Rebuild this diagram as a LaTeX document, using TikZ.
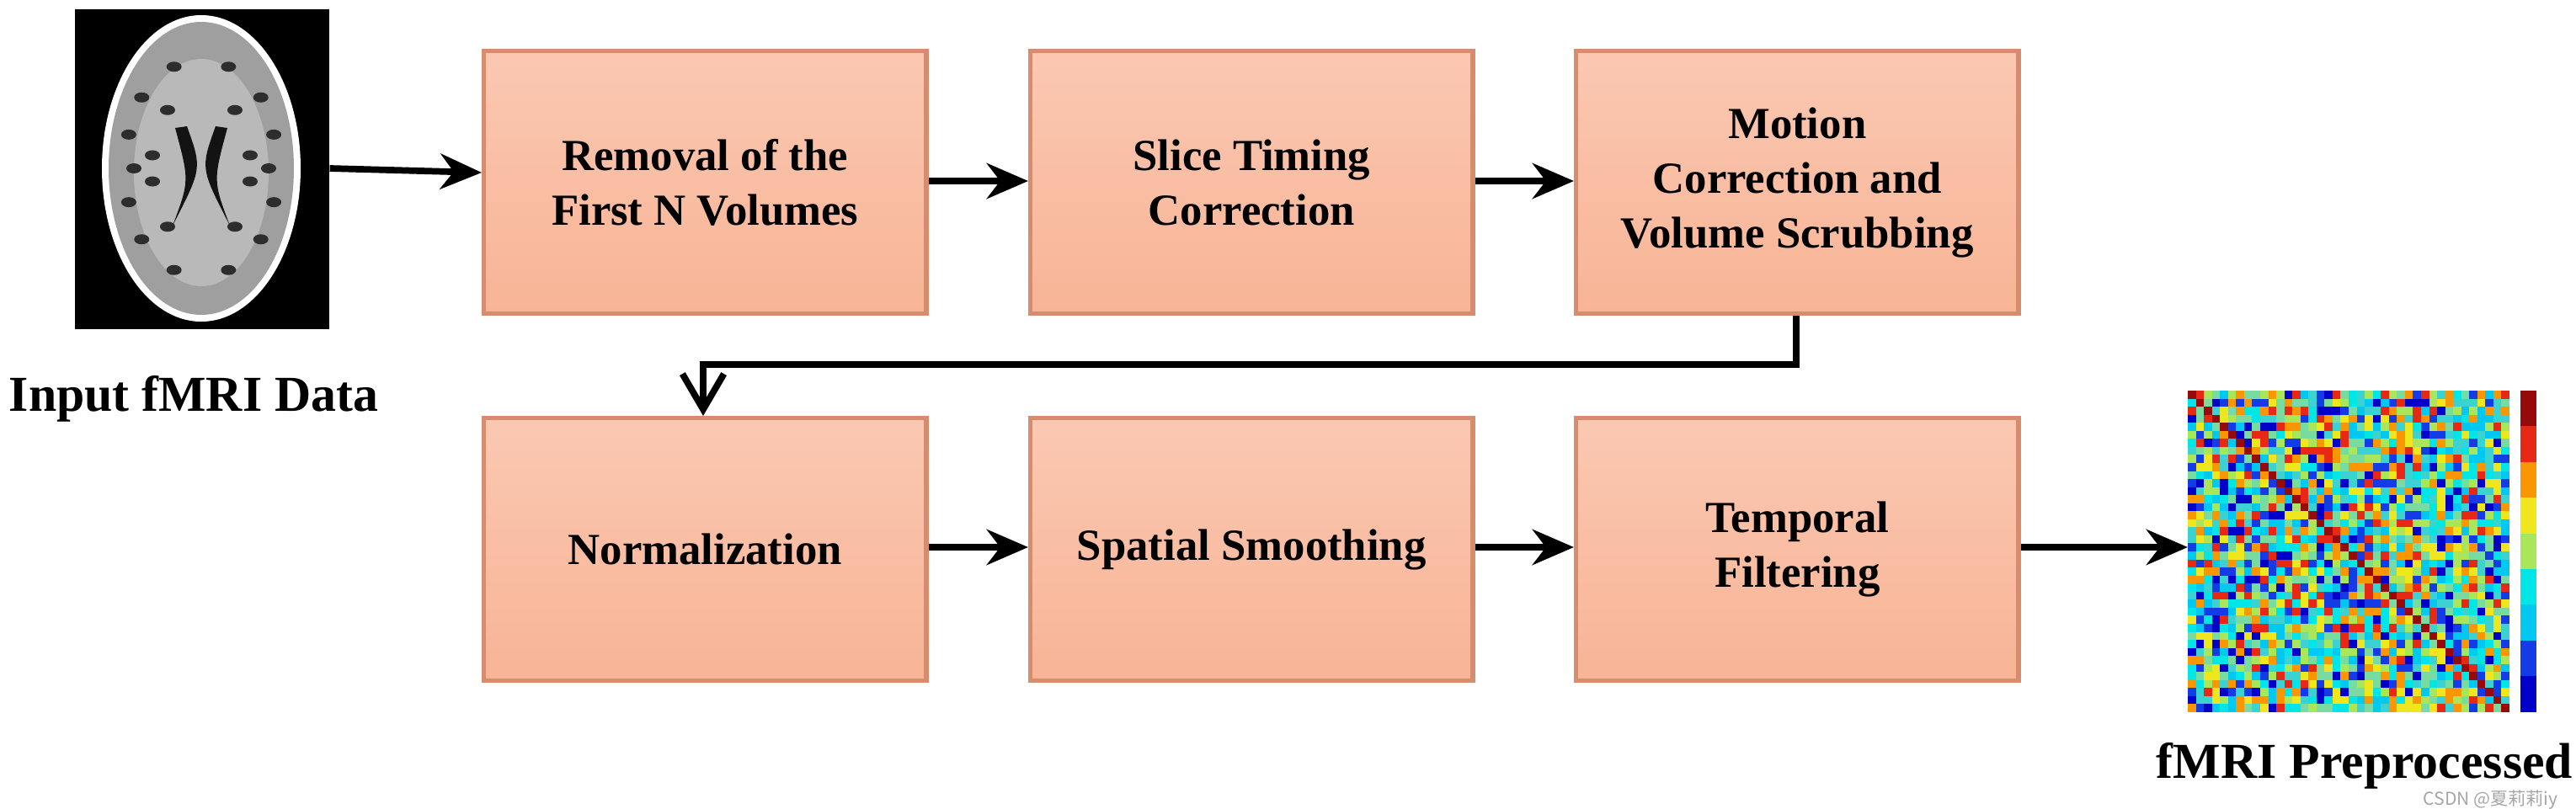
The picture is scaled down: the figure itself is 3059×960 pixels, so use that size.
\documentclass[tikz,border=0pt]{standalone}
\usepackage{fontspec}
\setmainfont{Liberation Serif}
\newfontfamily\cjk{Noto Sans CJK SC}
\usetikzlibrary{arrows.meta}
\definecolor{boxfill}{RGB}{248,180,150}
\definecolor{boxtop}{RGB}{250,200,178}
\definecolor{boxline}{RGB}{215,140,110}
\definecolor{c1}{RGB}{0,0,200}
\definecolor{c2}{RGB}{20,60,230}
\definecolor{c3}{RGB}{0,200,240}
\definecolor{c4}{RGB}{0,230,230}
\definecolor{c5}{RGB}{60,210,210}
\definecolor{c6}{RGB}{120,220,160}
\definecolor{c7}{RGB}{170,230,90}
\definecolor{c8}{RGB}{240,230,30}
\definecolor{c9}{RGB}{250,150,0}
\definecolor{c10}{RGB}{230,40,20}
\definecolor{dred}{RGB}{150,10,10}
\tikzset{
  stepbox/.style={draw=boxline, line width=1.5pt, top color=boxtop, bottom color=boxfill,
    minimum width=5.25cm, minimum height=3.12cm, anchor=north west, align=center,
    font=\fontsize{15}{18.5}\selectfont\bfseries, inner sep=0pt},
  flow/.style={-{Stealth[length=14pt,width=12pt]}, line width=2.2pt},
  openflow/.style={-{Straight Barb[length=12pt,width=14pt]}, line width=2.2pt},
  lbl/.style={font=\fontsize{17}{20}\selectfont\bfseries}
}
\begin{document}
\begin{tikzpicture}[x=0.01cm,y=-0.01cm]
\useasboundingbox (0,0) rectangle (3059,960);
% brain
\node[fill=black, minimum width=3.02cm, minimum height=3.8cm, anchor=north west, inner sep=0pt] (brain) at (88,10) {};
\fill[white] (239,200) ellipse [x radius=118, y radius=182];
\fill[gray!75] (239,200) ellipse [x radius=110, y radius=174];
\fill[gray!55] (239,205) ellipse [x radius=80, y radius=135];
\foreach \a/\r in {0/80,25/95,50/110,75/125,105/125,130/110,155/95,180/80,205/95,230/110,255/125,285/125,310/110,335/95,
                   15/60,60/80,120/80,165/60,195/60,240/80,300/80,345/60}{
  \fill[gray!35!black] (239,200) ++(\a:\r) ellipse [x radius=9, y radius=6];
}
\fill[gray!15!black] (222,150) .. controls (240,200) .. (205,268) .. controls (225,215) .. (208,152) -- cycle;
\fill[gray!15!black] (256,150) .. controls (238,200) .. (273,268) .. controls (253,215) .. (270,152) -- cycle;
\node[lbl] (inlbl) at (230,474) {Input fMRI Data};
% boxes
\node[stepbox] (b1) at (572,58) {Removal of the\\First N Volumes};
\node[stepbox] (b2) at (1221,58) {Slice Timing\\Correction};
\node[stepbox] (b3) at (1869,58) {Motion\\Correction and\\Volume Scrubbing};
\node[stepbox] (b4) at (572,494) {Normalization};
\node[stepbox] (b5) at (1221,494) {Spatial Smoothing};
\node[stepbox] (b6) at (1869,494) {Temporal\\Filtering};
% heatmap
\pgfmathsetseed{11}
\foreach \i in {0,...,39}{
  \foreach \j in {0,...,39}{
    \pgfmathrandominteger{\r}{1}{10}
    \ifnum\i=\j \def\cc{dred}\else\def\cc{c\r}\fi
    \fill[\cc] (2598+\i*9.55,464+\j*9.55) rectangle ++(9.6,9.6);
  }
}
\node[minimum width=3.82cm, minimum height=3.82cm, anchor=north west, inner sep=0pt] (hm) at (2598,464) {};
\foreach \k/\c in {0/dred,1/c10,2/c9,3/c8,4/c7,5/c4,6/c3,7/c2,8/c1}{
  \fill[\c] (2993,464+\k*42.4) rectangle ++(19,43);
}
\node[lbl] (outlbl) at (2808,910) {fMRI Preprocessed};
\node[font=\cjk\fontsize{6}{7}\selectfont, text=gray!70, anchor=east] (wm) at (3050,950) {CSDN @夏莉莉iy};
% arrows
\draw[flow] (brain.east |- 0,200) -- (b1.west |- 0,205);
\draw[flow] (b1.east |- 0,215) -- (b2.west |- 0,215);
\draw[flow] (b2.east |- 0,215) -- (b3.west |- 0,215);
\coordinate (t1) at (2133,433);
\coordinate (t2) at (835,433);
\draw[openflow] (b3.south -| t1) -- (t1) -- (t2) -- (b4.north -| t2);
\draw[flow] (b4.east |- 0,650) -- (b5.west |- 0,650);
\draw[flow] (b5.east |- 0,650) -- (b6.west |- 0,650);
\draw[flow] (b6.east |- 0,650) -- (hm.west |- 0,650);
\end{tikzpicture}
\end{document}
